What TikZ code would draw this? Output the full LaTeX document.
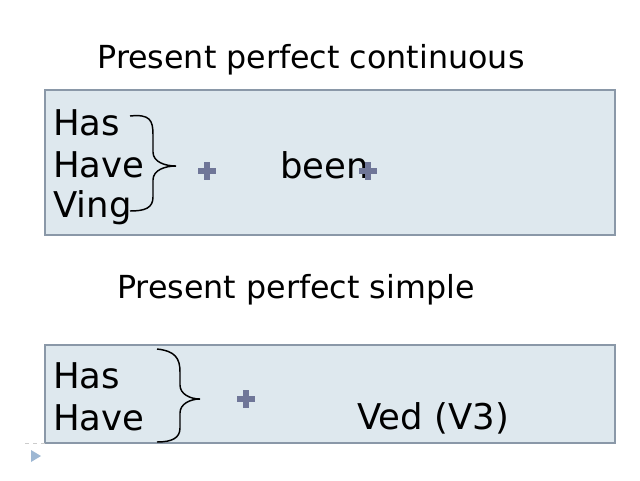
\documentclass[tikz,border=0pt]{standalone}
\usepackage{fontspec}
\setmainfont{DejaVu Sans}
\definecolor{boxfill}{HTML}{DEE8EE}
\definecolor{boxline}{HTML}{8A98A8}
\definecolor{plusblue}{HTML}{6F7698}
\definecolor{arrowblue}{HTML}{9DB7D3}
\begin{document}
\begin{tikzpicture}[x=0.75pt,y=-0.75pt,
    title/.style ={font=\fontsize{23.8}{28}\selectfont, anchor=center},
    word/.style ={font=\fontsize{26.6}{32}\selectfont, anchor=west, inner sep=0pt},
    panel/.style ={draw=boxline, line width=1pt, fill=boxfill},
    brace/.style ={draw=black, line width=1.1pt},
    plus/.style ={plusblue, line width=4.5pt}]

    \useasboundingbox (0,0) rectangle (640,480);

    % panels
    \draw [panel] (45,90) rectangle (615,235);
    \draw [panel] (45,345) rectangle (615,443);
    \draw [gray!40, dashed] (25,443) -- (45,443);
    \fill [arrowblue] (31,450) -- (41,456) -- (31,462) -- cycle;

    % titles
    \node [title] (titleCont) at (311,60) {Present perfect continuous};
    \node [title] (titleSimple) at (296,290) {Present perfect simple};

    % upper panel
    \node [word] (has1) at (53,123) {Has};
    \node [word] (have1) at (53,165) {Have};
    \node [word] (ving) at (53,208) {Ving};
    \node [word] (been) at (280,165) {been};
    \draw [brace] (130,116) .. controls (150,114) and (153,120) .. (153,135)
        -- (153,152) .. controls (153,162) and (165,166) .. (176,166)
        .. controls (165,166) and (153,170) .. (153,180)
        -- (153,197) .. controls (153,208) and (145,211) .. (130,211);

    % lower panel
    \node [word] (has2) at (53,376) {Has};
    \node [word] (have2) at (53,418) {Have};
    \node [word] (ved) at (357,418) {Ved (V3)};
    \draw [brace] (157,349) .. controls (175,351) and (180,358) .. (180,372)
        -- (180,385) .. controls (180,394) and (190,399) .. (200,399)
        .. controls (190,399) and (180,404) .. (180,413)
        -- (180,428) .. controls (180,438) and (172,442) .. (157,442);

    % plus marks
    \foreach \px/\py in {207/171, 368/171, 246/399}
      \draw [plus] (\px-9,\py) -- (\px+9,\py) (\px,\py-9) -- (\px,\py+9);

\end{tikzpicture}
\end{document}
